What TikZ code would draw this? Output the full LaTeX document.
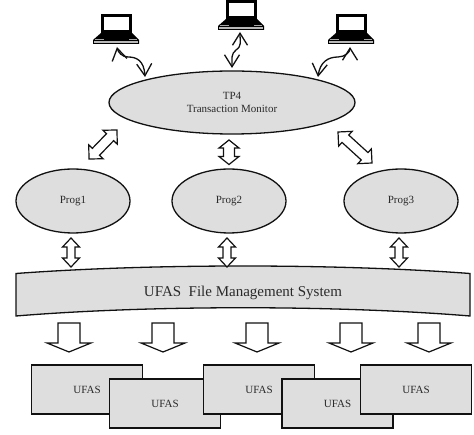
\documentclass[tikz,border=0pt]{standalone}
\usepackage{fontspec}
\setmainfont{Liberation Serif}
\usetikzlibrary{calc,arrows.meta,shapes.geometric}
\definecolor{fillg}{HTML}{DEDEDE}
\definecolor{inkc}{HTML}{111111}
\definecolor{txtc}{HTML}{2A2A2A}
\tikzset{
  oval/.style={ellipse,draw=inkc,fill=fillg,line width=1.3pt,inner sep=0pt,text=txtc,font=\fontsize{11}{13}\selectfont,align=center},
  ufasbox/.style={rectangle,draw=inkc,fill=fillg,line width=1.3pt,minimum width=111pt,minimum height=49pt,inner sep=0pt,text=txtc,font=\fontsize{11}{13}\selectfont},
  hollow/.style={draw=inkc,fill=white,line width=1.2pt,line join=miter},
  wavy/.style={draw=inkc,line width=1.3pt,{Straight Barb[length=12pt,width=15pt]}-{Straight Barb[length=12pt,width=15pt]}},
  pics/laptop/.style={code={
    \fill[black] (0,0) rectangle (31,19);
    \fill[white] (3,3) rectangle (28,16);
    \fill[black] (0,19) -- (31,19) -- (38,26) -- (38,30) -- (-8,30) -- (-8,26) -- cycle;
    \fill[gray!70] (-6,25) rectangle (3,26);
    \fill[gray!70] (28,25) rectangle (36,26);
    \fill[gray!55] (-7,27.2) rectangle (37,28.8);
  }}
}
\newcommand{\dblarrow}[5]{% end a, end b, head length, half head width, half shaft width
  \coordinate (p1) at ($(#1)!#3pt!(#2)$);
  \coordinate (p2) at ($(#2)!#3pt!(#1)$);
  \draw[hollow] (#1) -- ($(p1)!#4pt!90:(#2)$) -- ($(p1)!#5pt!90:(#2)$)
    -- ($(p2)!#5pt!-90:(#1)$) -- ($(p2)!#4pt!-90:(#1)$) -- (#2)
    -- ($(p2)!#4pt!90:(#1)$) -- ($(p2)!#5pt!90:(#1)$)
    -- ($(p1)!#5pt!-90:(#2)$) -- ($(p1)!#4pt!-90:(#2)$) -- cycle;
}
\newcommand{\fatdown}[1]{%
  \coordinate (s) at (#1,323);
  \draw[hollow] ($(s)+(-11,0)$) -- ($(s)+(11,0)$) -- ($(s)+(11,20)$) -- ($(s)+(22,20)$)
    -- ($(s)+(0,29)$) -- ($(s)+(-22,20)$) -- ($(s)+(-11,20)$) -- cycle;
}
\begin{document}
\begin{tikzpicture}[x=1pt,y=-1pt]
\useasboundingbox (0,0) rectangle (474,435);
% laptops
\pic at (101,14) {laptop};
\pic at (226,0) {laptop};
\pic at (336,14) {laptop};
% ovals
\node[oval,minimum width=246pt,minimum height=63pt] (tp) at (232,102.5) {TP4\\Transaction Monitor};
\node[oval,minimum width=114pt,minimum height=64pt] (p1n) at (73,201) {Prog1};
\node[oval,minimum width=114pt,minimum height=64pt] (p2n) at (229,201) {Prog2};
\node[oval,minimum width=114pt,minimum height=64pt] (p3n) at (401,201) {Prog3};
% banner
\draw[draw=inkc,fill=fillg,line width=1.3pt] (16,273.5) .. controls (150,263.5) and (336,263.5) .. (470,273.5)
  -- (470,316) .. controls (336,305) and (150,305) .. (16,316) -- cycle;
\node[text=txtc,font=\fontsize{15}{17}\selectfont,inner sep=0pt] (fms) at (243,292.5) {UFAS\ \ File Management System};
% wavy connectors
\coordinate (la) at (117,47); \coordinate (lb) at (145,77);
\coordinate (ma) at (240,32); \coordinate (mb) at (232,68);
\coordinate (ra) at (350,47); \coordinate (rb) at (318,77);
\draw[wavy] (la) .. controls (118,52) and (122,57) .. (128,57) .. controls (136,57) and (144,60) .. (lb);
\draw[wavy] (ma) .. controls (240,42) and (242,46) .. (236,50) .. controls (231,54) and (232,58) .. (mb);
\draw[wavy] (ra) .. controls (350,52) and (345,57) .. (338,57) .. controls (328,57) and (320,62) .. (rb);
% double arrows
\coordinate (a1) at (117,130); \coordinate (a2) at (89,159);
\coordinate (b1) at (229,140); \coordinate (b2) at (229,164.5);
\coordinate (c1) at (338,132); \coordinate (c2) at (372,163);
\dblarrow{a1}{a2}{10}{10}{5}
\dblarrow{b1}{b2}{8}{10}{5.5}
\dblarrow{c1}{c2}{10}{10}{5}
\coordinate (d1) at (71,238); \coordinate (d2) at (71,267);
\coordinate (e1) at (227,238); \coordinate (e2) at (227,267);
\coordinate (f1) at (399,238); \coordinate (f2) at (399,267);
\dblarrow{d1}{d2}{9}{8.5}{4}
\dblarrow{e1}{e2}{9}{8.5}{4}
\dblarrow{f1}{f2}{9}{8.5}{4}
% down arrows
\fatdown{69}
\fatdown{163}
\fatdown{257}
\fatdown{351}
\fatdown{429}
% boxes
\node[ufasbox] (u1) at (87,389.5) {UFAS};
\node[ufasbox] (u2) at (165,403.5) {UFAS};
\node[ufasbox] (u3) at (259,389.5) {UFAS};
\node[ufasbox] (u4) at (337.5,403.5) {UFAS};
\node[ufasbox] (u5) at (416,389.5) {UFAS};
\end{tikzpicture}
\end{document}
